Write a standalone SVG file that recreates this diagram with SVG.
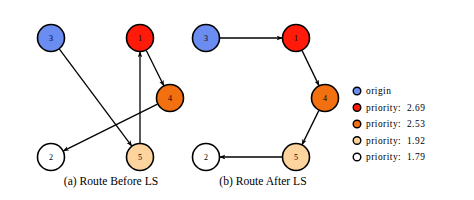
<svg xmlns="http://www.w3.org/2000/svg" width="474" height="200" viewBox="0 0 474 200">
<defs>
<marker id="ah" viewBox="0 0 10 10" refX="9" refY="5" markerWidth="6" markerHeight="6" markerUnits="userSpaceOnUse" orient="auto">
<path d="M0,1 L10,5 L0,9 L3,5 Z" fill="#000"/>
</marker>
</defs>
<style>
.n{stroke:#000;stroke-width:1.6}
.nl{font-family:"Liberation Serif","DejaVu Serif",serif;font-size:8px;text-anchor:middle;fill:#000}
.e{stroke:#000;stroke-width:1.3;fill:none;marker-end:url(#ah)}
.cap{font-family:"Liberation Serif","DejaVu Serif",serif;font-size:11.6px;text-anchor:middle;fill:#000}
.lg{font-family:"Liberation Serif","DejaVu Serif",serif;font-size:9.4px;fill:#000;white-space:pre;letter-spacing:0.5px}
.lc{stroke:#000;stroke-width:1.4}
.blue{fill:#6b8cf0}.red{fill:#ff1a0a}.orange{fill:#f2700f}.light{fill:#fdd49e}.white{fill:#fff}
</style>
<rect width="474" height="200" fill="#fff"/>
<g id="edges">
<line class="e" x1="59.4" y1="49.2" x2="131.6" y2="145.8"/>
<line class="e" x1="146.3" y1="50.5" x2="163.7" y2="85.5"/>
<line class="e" x1="157.5" y1="104.2" x2="63.5" y2="150.8"/>
<line class="e" x1="140" y1="143" x2="140" y2="52"/>
<line class="e" x1="220" y1="38" x2="282" y2="38"/>
<line class="e" x1="302.1" y1="50.6" x2="318.9" y2="85.4"/>
<line class="e" x1="318.8" y1="110.6" x2="302.2" y2="144.4"/>
<line class="e" x1="282" y1="157" x2="220" y2="157"/>
</g>
<g id="a3"><circle class="n blue" cx="51" cy="38" r="13.5"/><text class="nl" x="51" y="41">3</text></g>
<g id="a1"><circle class="n red" cx="140" cy="38" r="13.5"/><text class="nl" x="140" y="41">1</text></g>
<g id="a4"><circle class="n orange" cx="170" cy="98" r="13.5"/><text class="nl" x="170" y="101">4</text></g>
<g id="a2"><circle class="n white" cx="51" cy="157" r="13.5"/><text class="nl" x="51" y="160">2</text></g>
<g id="a5"><circle class="n light" cx="140" cy="157" r="13.5"/><text class="nl" x="140" y="160">5</text></g>
<g id="b3"><circle class="n blue" cx="206" cy="38" r="13.5"/><text class="nl" x="206" y="41">3</text></g>
<g id="b1"><circle class="n red" cx="296" cy="38" r="13.5"/><text class="nl" x="296" y="41">1</text></g>
<g id="b4"><circle class="n orange" cx="325" cy="98" r="13.5"/><text class="nl" x="325" y="101">4</text></g>
<g id="b2"><circle class="n white" cx="206" cy="157" r="13.5"/><text class="nl" x="206" y="160">2</text></g>
<g id="b5"><circle class="n light" cx="296" cy="157" r="13.5"/><text class="nl" x="296" y="160">5</text></g>
<text class="cap" x="111" y="185">(a) Route Before LS</text>
<text class="cap" x="263" y="185">(b) Route After LS</text>
<g id="legend">
<circle class="lc blue" cx="357" cy="91" r="3.8"/><text class="lg" x="366" y="94">origin</text>
<circle class="lc red" cx="357" cy="107.5" r="3.8"/><text class="lg" x="366" y="110.5">priority:  2.69</text>
<circle class="lc orange" cx="357" cy="124" r="3.8"/><text class="lg" x="366" y="127">priority:  2.53</text>
<circle class="lc light" cx="357" cy="140.5" r="3.8"/><text class="lg" x="366" y="143.5">priority:  1.92</text>
<circle class="lc white" cx="357" cy="157" r="3.8"/><text class="lg" x="366" y="160">priority:  1.79</text>
</g>
</svg>
